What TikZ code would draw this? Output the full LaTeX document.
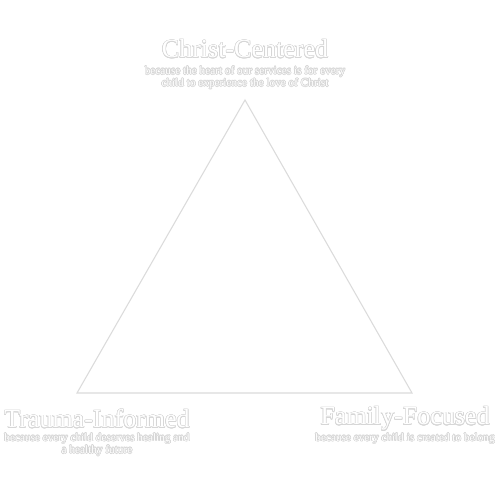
\documentclass[tikz,border=0pt]{standalone}
\usepackage{fontspec}
\setmainfont{Liberation Serif}
\usepackage{contour}
\contourlength{0.3pt}
\contournumber{16}
\definecolor{edge}{gray}{0.86}
\definecolor{halo}{gray}{0.84}
\tikzset{side/.style={draw=edge, line width=0.6pt}}
\tikzset{title/.style={inner sep=0pt, font=\fontsize{14.8}{16}\selectfont}}
\tikzset{reason/.style={inner sep=0pt, align=center, font=\fontsize{6.4}{6.8}\selectfont}}
\newcommand{\hollow}[1]{\contour{halo}{\textcolor{white}{#1}}}

\begin{document}
\begin{tikzpicture}[x=0.02cm, y=-0.02cm]
\useasboundingbox[fill=white] (0,0) rectangle (500,500);
\coordinate (top) at (245,100);
\coordinate (bl) at (77,393);
\coordinate (br) at (412,393);
\draw[side] (top) -- (bl) -- (br) -- cycle;
\node[title] (christ) at (245,49) {\hollow{Christ-Centered}};
\node[reason] (christr1) at (245,72) {\hollow{because the heart of our services is for every}};
\node[reason] (christr2) at (245,84) {\hollow{child to experience the love of Christ}};
\node[title] (trauma) at (97,419) {\hollow{Trauma-Informed}};
\node[reason] (traumar1) at (97,439) {\hollow{because every child deserves healing and}};
\node[reason] (traumar2) at (97,451) {\hollow{a healthy future}};
\node[title] (family) at (405,419) {\hollow{Family-Focused}};
\node[reason] (familyr1) at (405,439) {\hollow{because every child is created to belong}};
\end{tikzpicture}
\end{document}
